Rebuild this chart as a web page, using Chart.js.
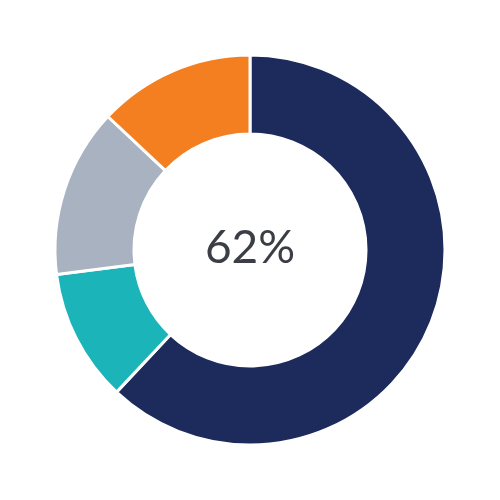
<!DOCTYPE html>
<html>
<head>
<meta charset="utf-8">
<script src="https://cdn.jsdelivr.net/npm/chart.js@4"></script>
<style>
    html, body { margin: 0; padding: 0; background: #ffffff; }
    #wrap { position: relative; width: 500px; height: 500px; }
    #centerText {
        position: absolute;
        left: 0; top: -5px; width: 500px; height: 500px;
        display: flex; align-items: center; justify-content: center;
        font-family: Lato, 'Open Sans', sans-serif;
        font-size: 46px;
        color: #3b3e44;
        pointer-events: none;
    }
</style>
</head>
<body>
<div id="wrap">
    <canvas id="donutChart"></canvas>
    <div id="centerText">62%</div>
</div>
<script>
// Values (share of the ring, percent)
const segmentLabels = ['Main', 'Teal', 'Gray', 'Orange'];
const segmentValues = [62, 11, 14, 13];
const segmentColors = ['#1c2b5b', '#1bb4b9', '#a8b2c0', '#f47f20'];

document.addEventListener('DOMContentLoaded', () => {
    const ctx = document.getElementById('donutChart');
    new Chart(ctx, {
        type: 'doughnut',
        data: {
            labels: segmentLabels,
            datasets: [{
                data: segmentValues,
                backgroundColor: segmentColors,
                borderColor: '#ffffff',
                borderWidth: 3,
                hoverOffset: 0
            }]
        },
        options: {
            responsive: true,
            maintainAspectRatio: false,
            animation: false,
            radius: 195,
            // cutout is a share of the outer radius
            cutout: '59.5%',
            layout: { padding: 0 },
            plugins: {
                legend: { display: false },
                tooltip: { enabled: false }
            }
        }
    });
});
</script>
</body>
</html>
